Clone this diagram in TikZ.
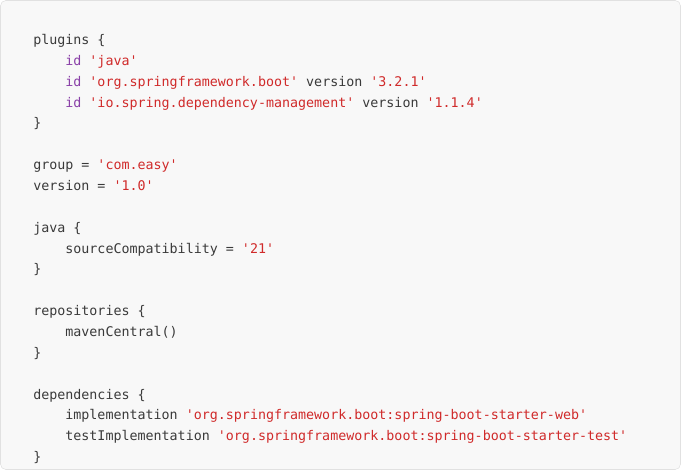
\documentclass[tikz,border=0pt]{standalone}
\usepackage{fontspec}
\setmonofont{DejaVu Sans Mono}
\definecolor{codebg}{HTML}{F8F8F8}
\definecolor{codeframe}{HTML}{E1E1E1}
\definecolor{codetext}{HTML}{3A3A3A}
\definecolor{codekw}{HTML}{8A40A8}
\definecolor{codestr}{HTML}{D02A2A}
\newcommand{\kw}[1]{\textcolor{codekw}{#1}}
\newcommand{\str}[1]{\textcolor{codestr}{#1}}
\tikzset{codeline/.style={anchor=base west, inner sep=0pt, text=codetext,
  font=\ttfamily\fontsize{10pt}{12pt}\selectfont}}

\begin{document}
\begin{tikzpicture}[x=0.75pt, y=-0.75pt]
    % Frame
    \useasboundingbox (0,0) rectangle (681,470);
    \draw[codeframe, fill=codebg, rounded corners=4pt] (0.5,0.5) rectangle (680.5,469.5);
    % Code lines
    \node[codeline] (l1)  at (33,44.5)  {plugins \{};
    \node[codeline] (l2)  at (33,65.4)  {\ \ \ \ \kw{id} \str{'java'}};
    \node[codeline] (l3)  at (33,86.2)  {\ \ \ \ \kw{id} \str{'org.springframework.boot'} version \str{'3.2.1'}};
    \node[codeline] (l4)  at (33,107.1) {\ \ \ \ \kw{id} \str{'io.spring.dependency-management'} version \str{'1.1.4'}};
    \node[codeline] (l5)  at (33,127.9) {\}};
    \node[codeline] (l7)  at (33,169.6) {group = \str{'com.easy'}};
    \node[codeline] (l8)  at (33,190.5) {version = \str{'1.0'}};
    \node[codeline] (l10) at (33,232.2) {java \{};
    \node[codeline] (l11) at (33,253.0) {\ \ \ \ sourceCompatibility = \str{'21'}};
    \node[codeline] (l12) at (33,273.9) {\}};
    \node[codeline] (l14) at (33,315.6) {repositories \{};
    \node[codeline] (l15) at (33,336.4) {\ \ \ \ mavenCentral()};
    \node[codeline] (l16) at (33,357.3) {\}};
    \node[codeline] (l18) at (33,399.0) {dependencies \{};
    \node[codeline] (l19) at (33,419.8) {\ \ \ \ implementation \str{'org.springframework.boot:spring-boot-starter-web'}};
    \node[codeline] (l20) at (33,440.7) {\ \ \ \ testImplementation \str{'org.springframework.boot:spring-boot-starter-test'}};
    \node[codeline] (l21) at (33,461.5) {\}};
\end{tikzpicture}
\end{document}
